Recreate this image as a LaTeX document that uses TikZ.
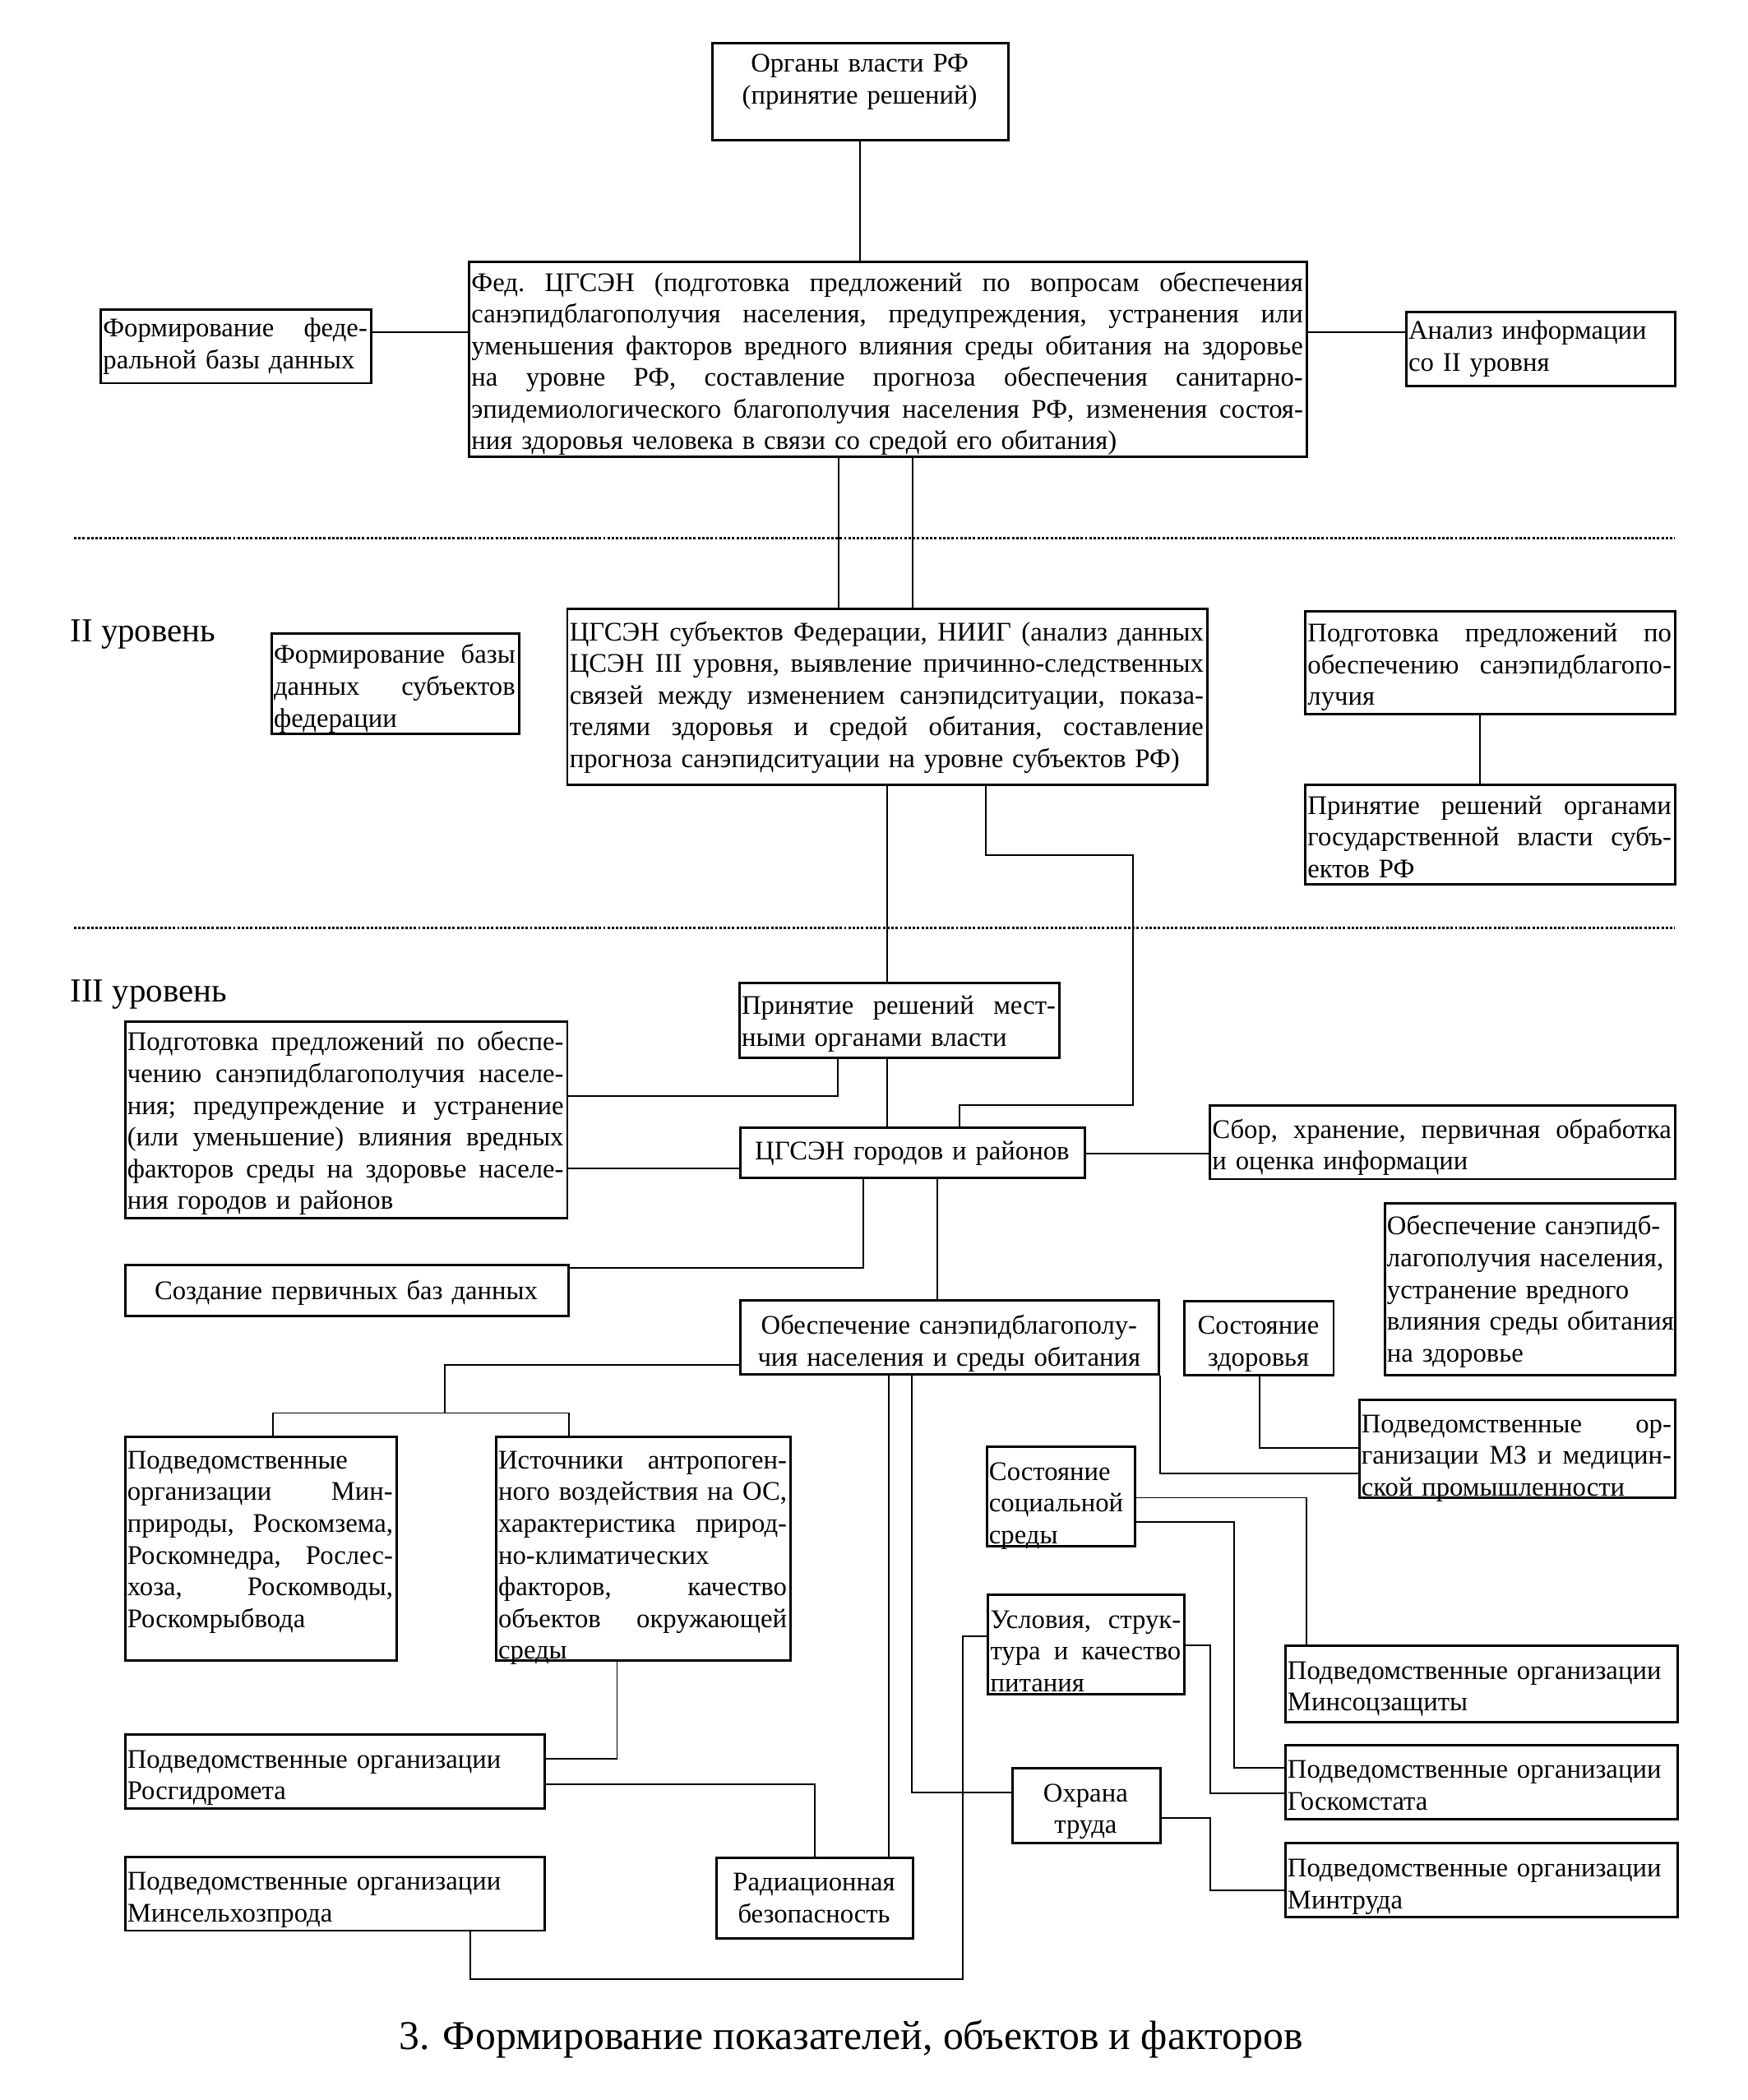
\documentclass[tikz,border=0pt]{standalone}
\usepackage{fontspec}
\setmainfont{Liberation Serif}
\newcommand\bodyfont{\fontsize{10.0}{11.8}\selectfont\frenchspacing}
\newcommand\jl[1]{\makebox[\hsize][s]{\spaceskip=0pt\xspaceskip=0pt\strut#1}\par}
\newcommand\zl[1]{\strut\mbox{#1}\par}
\tikzset{
 bx/.style={draw, line width=0.9pt, inner sep=0pt},
 txt/.style={inner sep=0pt, font=\bodyfont, anchor=north west},
 ln/.style={line width=0.6pt},
 dotl/.style={line width=0.9pt, dash pattern=on 0.9pt off 0.7pt},
 lvl/.style={font=\fontsize{12.5}{15}\selectfont, inner sep=0pt},
 capt/.style={font=\fontsize{15.2}{18}\selectfont, inner sep=0pt},
}
% #1 text offset from top (px), #2 name, #3-#6 x1 y1 x2 y2 (px), #7 align, #8 text
\newcommand\mybox[8][7.5]{%
  \pgfmathsetmacro\myw{(#5-#3)*0.5}%
  \pgfmathsetmacro\myh{(#6-#4)*0.5}%
  \pgfmathsetmacro\mytw{(#5-#3)*0.5-2.2}%
  \pgfmathsetmacro\myoff{-(#1)*0.5}%
  \node[bx,minimum width=\myw pt,minimum height=\myh pt] (#2) at ({(#3+#5)/2},{(#4+#6)/2}) {};
  \node[txt,text width=\mytw pt,align=#7] (#2-t) at ([xshift=1.1pt,yshift=\myoff pt]#2.north west) {#8};}
\begin{document}
\begin{tikzpicture}[x=0.5pt,y=-0.5pt]
\path[fill=white, use as bounding box] (0,0) rectangle (1300,1562);

\mybox[5.5]{A}{530}{32}{750}{104}{center}{\zl{Органы власти РФ}\zl{(принятие решений)}}
\mybox[5.5]{B}{349}{195}{972}{340}{left}{%
\jl{Фед. ЦГСЭН (подготовка предложений по вопросам обеспечения}
\jl{санэпидблагополучия населения, предупреждения, устранения или}
\jl{уменьшения факторов вредного влияния среды обитания на здоровье}
\jl{на уровне РФ, составление прогноза обеспечения санитарно-}
\jl{эпидемиологического благополучия населения РФ, изменения состоя-}
\zl{ния здоровья человека в связи со средой его обитания)}}
\mybox[4.5]{C}{75}{230}{276}{285}{left}{\jl{Формирование феде-}\zl{ральной базы данных}}
\mybox[4.5]{D}{1046}{232}{1246}{287}{left}{\zl{Анализ информации}\zl{со II уровня}}
\mybox[6.5]{E}{202}{471}{386}{546}{left}{\jl{Формирование базы}\jl{данных субъектов}\zl{федерации}}
\mybox{F}{422}{453}{898}{584}{left}{%
\jl{ЦГСЭН субъектов Федерации, НИИГ (анализ данных}
\jl{ЦСЭН III уровня, выявление причинно-следственных}
\jl{связей между изменением санэпидситуации, показа-}
\jl{телями здоровья и средой обитания, составление}
\zl{прогноза санэпидситуации на уровне субъектов РФ)}}
\mybox[6.5]{G}{971}{455}{1246}{531}{left}{\jl{Подготовка предложений по}\jl{обеспечению санэпидблагопо-}\zl{лучия}}
\mybox[5.5]{H}{971}{584}{1246}{658}{left}{\jl{Принятие решений органами}\jl{государственной власти субъ-}\zl{ектов РФ}}
\mybox{I}{550}{731}{788}{787}{left}{\jl{Принятие решений мест-}\zl{ными органами власти}}
\mybox[5.5]{J}{93}{760}{422}{906}{left}{%
\jl{Подготовка предложений по обеспе-}
\jl{чению санэпидблагополучия населе-}
\jl{ния; предупреждение и устранение}
\jl{(или уменьшение) влияния вредных}
\jl{факторов среды на здоровье населе-}
\zl{ния городов и районов}}
\mybox{K}{551}{839}{807}{876}{center}{\zl{ЦГСЭН городов и районов}}
\mybox[8.5]{L}{900}{822}{1246}{877}{left}{\jl{Сбор, хранение, первичная обработка}\zl{и оценка информации}}
\mybox{M}{1030}{895}{1246}{1023}{left}{\zl{Обеспечение санэпидб-}\zl{лагополучия населения,}\zl{устранение вредного}\zl{влияния среды обитания}\zl{на здоровье}}
\mybox[9.5]{N}{93}{941}{423}{979}{center}{\zl{Создание первичных баз данных}}
\mybox[9.5]{O}{551}{967}{862}{1022}{center}{\zl{Обеспечение санэпидблагополу-}\zl{чия населения и среды обитания}}
\mybox[8.5]{P}{881}{968}{992}{1023}{center}{\zl{Состояние}\zl{здоровья}}
\mybox[8.5]{Q}{1011}{1041}{1246}{1114}{left}{\jl{Подведомственные ор-}\jl{ганизации МЗ и медицин-}\zl{ской промышленности}}
\mybox{R}{93}{1069}{295}{1235}{left}{\zl{Подведомственные}\jl{организации Мин-}\jl{природы, Роскомзема,}\jl{Роскомнедра, Рослес-}\jl{хоза, Роскомводы,}\zl{Роскомрыбвода}}
\mybox[7.5]{S}{369}{1069}{588}{1235}{left}{\jl{Источники антропоген-}\jl{ного воздействия на ОС,}\jl{характеристика природ-}\zl{но-климатических}\jl{факторов, качество}\jl{объектов окружающей}\zl{среды}}
\mybox[9]{T}{734}{1076}{844}{1150}{left}{\zl{Состояние}\zl{социальной}\zl{среды}}
\mybox[9]{U}{735}{1186}{881}{1260}{left}{\jl{Условия, струк-}\jl{тура и качество}\zl{питания}}
\mybox[9]{V}{956}{1224}{1248}{1281}{left}{\zl{Подведомственные организации}\zl{Минсоцзащиты}}
\mybox[9]{W}{93}{1290}{405}{1345}{left}{\zl{Подведомственные организации}\zl{Росгидромета}}
\mybox[8.5]{X}{956}{1298}{1248}{1353}{left}{\zl{Подведомственные организации}\zl{Госкомстата}}
\mybox[9]{Y}{753}{1315}{863}{1371}{center}{\zl{Охрана}\zl{труда}}
\mybox[9]{Z}{956}{1371}{1248}{1426}{left}{\zl{Подведомственные организации}\zl{Минтруда}}
\mybox[9]{AA}{93}{1381}{405}{1436}{left}{\zl{Подведомственные организации}\zl{Минсельхозпрода}}
\mybox[8.5]{AB}{533}{1382}{679}{1442}{center}{\zl{Радиационная}\zl{безопасность}}

\node[lvl, anchor=west] (l2) at (52,472) {II уровень};
\node[lvl, anchor=west] (l3) at (52,740) {III уровень};
\node[capt] (cap) at (633,1517) {3. Формирование показателей, объектов и факторов};

\draw[dotl] (55,400) -- (1246,400);
\draw[dotl] (55,690) -- (1246,690);

\foreach \v in {203,350,423,459,606,623,624,642,660,661,678,679,697,714,733,937,972,1101}
  \coordinate (v\v) at (\v,0);
\foreach \h in {247,815,858,869,943,1015,1077,1096,1114,1132,1217,1224,1308,1315,1327,1333,1334,1352,1406}
  \coordinate (h\h) at (0,\h);

\draw[ln] (A.south) -- (A.south |- B.north);
\draw[ln] (C.east |- h247) -- (B.west |- h247);
\draw[ln] (B.east |- h247) -- (D.west |- h247);
\draw[ln] (B.south -| v624) -- (F.north -| v624);
\draw[ln] (B.south -| v679) -- (F.north -| v679);
\draw[ln] (G.south -| v1101) -- (H.north -| v1101);
\draw[ln] (F.south -| v660) -- (I.north -| v660);
\draw[ln] (F.south -| v733) |- (843,636) |- (714,822) -- (K.north -| v714);
\draw[ln] (I.south -| v623) |- (J.east |- h815);
\draw[ln] (I.south -| v660) -- (K.north -| v660);
\draw[ln] (J.east |- h869) -- (K.west |- h869);
\draw[ln] (K.east |- h858) -- (L.west |- h858);
\draw[ln] (K.south -| v642) |- (N.east |- h943);
\draw[ln] (K.south -| v697) -- (O.north -| v697);
\draw[ln] (P.south -| v937) |- (Q.west |- h1077);
\draw[ln] (O.south east) |- (Q.west |- h1096);
\draw[ln] (O.west |- h1015) -| (331,1051);
\draw[ln] (R.north -| v203) |- (423,1051) -- (S.north -| v423);
\draw[ln] (S.south -| v459) |- (W.east |- h1308);
\draw[ln] (W.east |- h1327) -| (AB.north -| v606);
\draw[ln] (AB.north -| v661) -- (O.south -| v661);
\draw[ln] (O.south -| v678) |- (Y.west |- h1333);
\draw[ln] (Y.east |- h1352) -| (900,1406) -- (Z.west |- h1406);
\draw[ln] (AA.south -| v350) |- (716,1472) |- (U.west |- h1217);
\draw[ln] (U.east |- h1224) -| (900,1334) -- (X.west |- h1334);
\draw[ln] (T.east |- h1114) -| (V.north -| v972);
\draw[ln] (T.east |- h1132) -| (918,1315) -- (X.west |- h1315);
\end{tikzpicture}
\end{document}
